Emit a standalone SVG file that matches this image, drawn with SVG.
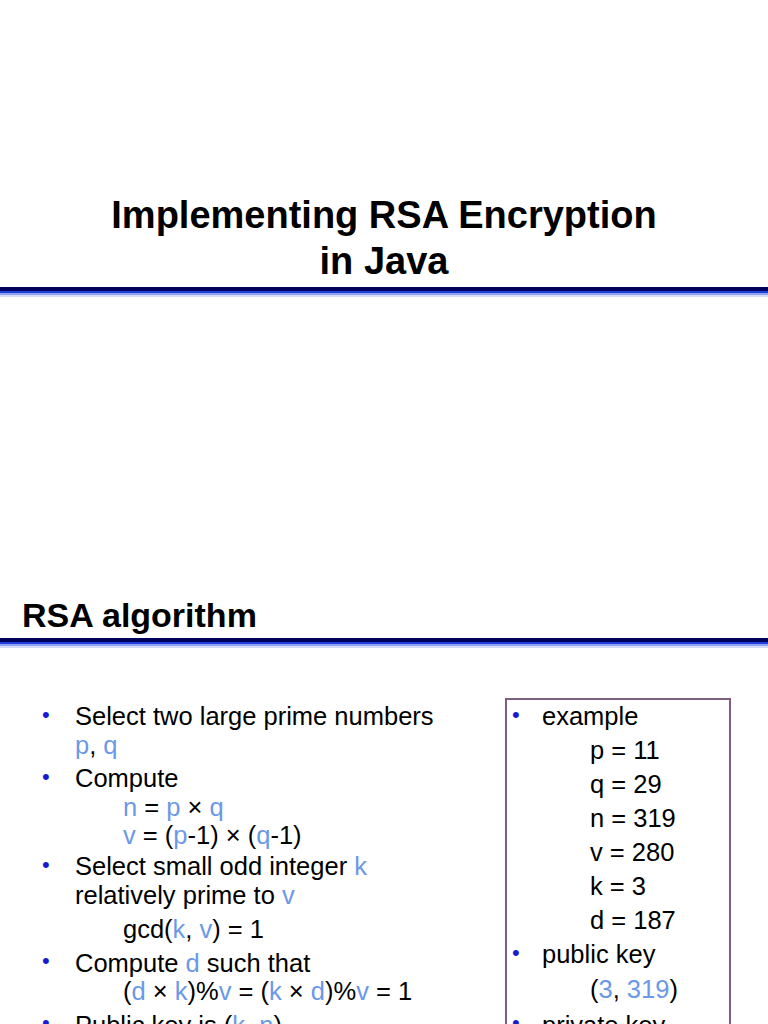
<svg xmlns="http://www.w3.org/2000/svg" width="768" height="1024" viewBox="0 0 768 1024">
<style>
text{font-family:"Liberation Sans",Arial,sans-serif;fill:#000}
.t{font-size:38px;font-weight:bold}
.b{font-size:25.5px}
.c{fill:#6b98e8}
.u{fill:#1a1ad0;font-size:22px}
</style>
<rect width="768" height="1024" fill="#fff"/>
<g id="slide1">
<text class="t" x="384" y="228" text-anchor="middle">Implementing RSA Encryption</text>
<text class="t" x="384" y="274" text-anchor="middle">in Java</text>
<rect x="0" y="287" width="768" height="4" fill="#00005a"/>
<rect x="0" y="291" width="768" height="2" fill="#1f3fd8"/>
<rect x="0" y="293" width="768" height="2" fill="#8fa3f0"/>
<rect x="0" y="295" width="768" height="2" fill="#d6ddfb"/>
</g>
<g id="slide2">
<text x="22" y="627" style="font-size:34px;font-weight:bold">RSA algorithm</text>
<rect x="0" y="638" width="768" height="4" fill="#00005a"/>
<rect x="0" y="642" width="768" height="2" fill="#1f3fd8"/>
<rect x="0" y="644" width="768" height="2" fill="#8fa3f0"/>
<rect x="0" y="646" width="768" height="2" fill="#d6ddfb"/>
<g class="b">
<text class="u" x="42" y="722">•</text>
<text x="75" y="725">Select two large prime numbers</text>
<text x="75" y="754"><tspan class="c">p</tspan>, <tspan class="c">q</tspan></text>
<text class="u" x="42" y="784">•</text>
<text x="75" y="787">Compute</text>
<text x="123" y="816"><tspan class="c">n</tspan> = <tspan class="c">p</tspan> × <tspan class="c">q</tspan></text>
<text x="123" y="844"><tspan class="c">v</tspan> = (<tspan class="c">p</tspan>-1) × (<tspan class="c">q</tspan>-1)</text>
<text class="u" x="42" y="872">•</text>
<text x="75" y="875">Select small odd integer <tspan class="c">k</tspan></text>
<text x="75" y="904">relatively prime to <tspan class="c">v</tspan></text>
<text x="123" y="938">gcd(<tspan class="c">k</tspan>, <tspan class="c">v</tspan>) = 1</text>
<text class="u" x="42" y="968">•</text>
<text x="75" y="972">Compute <tspan class="c">d</tspan> such that</text>
<text x="123" y="1000">(<tspan class="c">d</tspan> × <tspan class="c">k</tspan>)%<tspan class="c">v</tspan> = (<tspan class="c">k</tspan> × <tspan class="c">d</tspan>)%<tspan class="c">v</tspan> = 1</text>
<text class="u" x="42" y="1030">•</text>
<text x="75" y="1034">Public key is (<tspan class="c">k</tspan>, <tspan class="c">n</tspan>)</text>
</g>
<g id="example">
<rect x="506" y="699" width="224" height="340" fill="none" stroke="#7f5f80" stroke-width="2"/>
<g class="b">
<text class="u" x="512" y="722">•</text>
<text x="542" y="725">example</text>
<text x="590" y="759">p = 11</text>
<text x="590" y="793">q = 29</text>
<text x="590" y="827">n = 319</text>
<text x="590" y="861">v = 280</text>
<text x="590" y="895">k = 3</text>
<text x="590" y="929">d = 187</text>
<text class="u" x="512" y="960">•</text>
<text x="542" y="963">public key</text>
<text x="590" y="998">(<tspan class="c">3</tspan>, <tspan class="c">319</tspan>)</text>
<text class="u" x="512" y="1030">•</text>
<text x="542" y="1034">private key</text>
</g>
</g>
</g>
</svg>
